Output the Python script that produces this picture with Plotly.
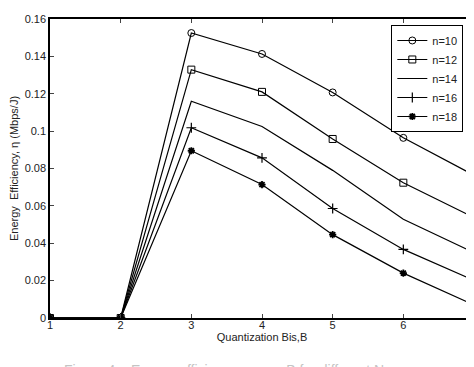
import plotly.graph_objects as go

B = [1, 2, 3, 4, 5, 6, 7]
series_names = ["n=10", "n=12", "n=14", "n=16", "n=18"]
eff_n10 = [0, 0, 0.1525, 0.1413, 0.1207, 0.0964, 0.0764]
eff_n12 = [0, 0, 0.1329, 0.1210, 0.0958, 0.0724, 0.0537]
eff_n14 = [0, 0, 0.1160, 0.1025, 0.0790, 0.0528, 0.0350]
eff_n16 = [0, 0, 0.1018, 0.0857, 0.0586, 0.0367, 0.0201]
eff_n18 = [0, 0, 0.0895, 0.0714, 0.0446, 0.0240, 0.0070]
y_tickvals = [0, 0.02, 0.04, 0.06, 0.08, 0.1, 0.12, 0.14, 0.16]
y_ticktext = ["0", "0.02", "0.04", "0.06", "0.08", "0.1", "0.12", "0.14", "0.16"]

all_series = [eff_n10, eff_n12, eff_n14, eff_n16, eff_n18]
markers = [
    dict(symbol="circle-open", size=7, color="black", line=dict(width=1)),
    dict(symbol="square-open", size=7, color="black", line=dict(width=1)),
    None,
    dict(symbol="cross-thin-open", size=7, color="black", line=dict(width=1.2)),
    dict(symbol="asterisk-open", size=6, color="black", line=dict(width=1.8)),
]

fig = go.Figure()
for name, vals, mk in zip(series_names, all_series, markers):
    if mk is None:
        fig.add_trace(go.Scatter(x=B, y=vals, name=name, mode="lines",
                                 line=dict(color="black", width=1.2)))
    else:
        fig.add_trace(go.Scatter(x=B, y=vals, name=name, mode="lines+markers",
                                 line=dict(color="black", width=1.2), marker=mk))

font = dict(family="Liberation Sans, Arial, sans-serif", size=11, color="#222")
fig.update_layout(
    width=474, height=367,
    margin=dict(l=41, r=6, t=5, b=57),
    paper_bgcolor="white", plot_bgcolor="white",
    font=font,
    showlegend=True,
    legend=dict(x=0.805, y=0.98, xanchor="left", yanchor="top",
                bgcolor="white", bordercolor="black", borderwidth=1,
                font=dict(size=11), tracegroupgap=0, itemwidth=30),
    xaxis=dict(range=[1, 7], tickvals=B, ticks="inside", ticklen=4,
               showline=True, linecolor="black", linewidth=1.5, mirror="ticks",
               showgrid=False, zeroline=False, ticklabelstandoff=-4,
               title=dict(text="Quantization Bis,B", standoff=2, font=dict(size=11))),
    yaxis=dict(range=[0, 0.16], tickvals=y_tickvals, ticktext=y_ticktext,
               ticks="inside", ticklen=4,
               showline=True, linecolor="black", linewidth=1.5, mirror="ticks",
               showgrid=False, zeroline=False,
               title=dict(text="Energy  Efficiency, η (Mbps/J)", standoff=4, font=dict(size=11))),
)
fig.add_annotation(text="Figure 4.   Energy efficiency versus B for different N",
                   xref="paper", yref="paper", x=0.41, y=-0.14, xanchor="center",
                   yanchor="top", showarrow=False,
                   font=dict(size=14, color="#c4c4c4"))
fig.write_html("out.html")
